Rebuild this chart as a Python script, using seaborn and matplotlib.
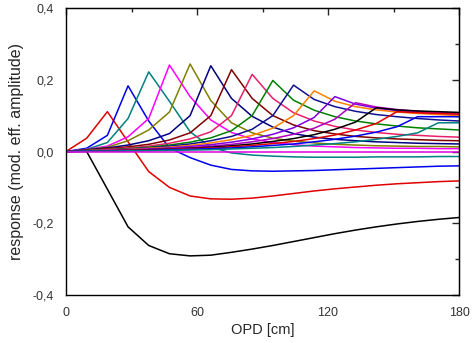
import numpy as np
import pandas as pd
import matplotlib
matplotlib.use("Agg")
import matplotlib.pyplot as plt
import seaborn as sns
from matplotlib.ticker import MultipleLocator, FuncFormatter

# OPD sample positions [cm]
opd = [0.0, 9.47, 18.95, 28.42, 37.89, 47.37, 56.84, 66.32, 75.79, 85.26,
       94.74, 104.21, 113.68, 123.16, 132.63, 142.11, 151.58, 161.05, 170.53, 180.0]

c01 = [0, 0.000, -0.105, -0.210, -0.262, -0.285, -0.291, -0.289, -0.281, -0.272, -0.262, -0.251, -0.240, -0.229, -0.219, -0.210, -0.202, -0.195, -0.189, -0.184]
c02 = [0, 0.037, 0.111, 0.027, -0.056, -0.100, -0.124, -0.132, -0.133, -0.130, -0.124, -0.117, -0.110, -0.104, -0.099, -0.094, -0.090, -0.087, -0.084, -0.082]
c03 = [0, 0.009, 0.045, 0.183, 0.085, 0.010, -0.017, -0.038, -0.050, -0.054, -0.055, -0.054, -0.053, -0.051, -0.049, -0.047, -0.045, -0.043, -0.041, -0.040]
c04 = [0, 0.006, 0.025, 0.092, 0.222, 0.140, 0.055, 0.012, -0.004, -0.010, -0.013, -0.015, -0.016, -0.016, -0.016, -0.015, -0.015, -0.015, -0.014, -0.014]
c05 = [0, 0.006, 0.015, 0.041, 0.092, 0.241, 0.153, 0.088, 0.053, 0.035, 0.025, 0.019, 0.015, 0.013, 0.011, 0.010, 0.009, 0.009, 0.008, 0.008]
c06 = [0, 0.005, 0.012, 0.030, 0.060, 0.110, 0.244, 0.142, 0.080, 0.052, 0.037, 0.029, 0.024, 0.020, 0.018, 0.016, 0.015, 0.014, 0.014, 0.013]
c07 = [0, 0.005, 0.010, 0.018, 0.030, 0.050, 0.100, 0.239, 0.148, 0.098, 0.068, 0.050, 0.040, 0.034, 0.030, 0.027, 0.025, 0.023, 0.022, 0.021]
c08 = [0, 0.004, 0.008, 0.013, 0.020, 0.032, 0.052, 0.100, 0.228, 0.148, 0.100, 0.074, 0.058, 0.049, 0.042, 0.038, 0.035, 0.033, 0.031, 0.030]
c09 = [0, 0.003, 0.006, 0.010, 0.015, 0.023, 0.035, 0.055, 0.100, 0.215, 0.148, 0.108, 0.085, 0.070, 0.060, 0.053, 0.048, 0.045, 0.042, 0.040]
c10 = [0, 0.003, 0.005, 0.008, 0.012, 0.018, 0.026, 0.038, 0.058, 0.100, 0.198, 0.143, 0.115, 0.097, 0.085, 0.077, 0.071, 0.066, 0.063, 0.060]
c11 = [0, 0.002, 0.004, 0.007, 0.010, 0.015, 0.021, 0.030, 0.042, 0.062, 0.100, 0.185, 0.145, 0.125, 0.112, 0.103, 0.097, 0.092, 0.088, 0.085]
c12 = [0, 0.002, 0.004, 0.006, 0.009, 0.012, 0.017, 0.024, 0.033, 0.045, 0.065, 0.100, 0.169, 0.140, 0.125, 0.116, 0.110, 0.106, 0.103, 0.100]
c13 = [0, 0.002, 0.003, 0.005, 0.007, 0.010, 0.014, 0.019, 0.026, 0.035, 0.048, 0.066, 0.095, 0.153, 0.132, 0.121, 0.114, 0.110, 0.107, 0.105]
c14 = [0, 0.001, 0.003, 0.004, 0.006, 0.008, 0.011, 0.015, 0.020, 0.027, 0.036, 0.048, 0.065, 0.090, 0.136, 0.124, 0.117, 0.112, 0.109, 0.107]
c15 = [0, 0.001, 0.002, 0.003, 0.005, 0.007, 0.009, 0.012, 0.016, 0.021, 0.028, 0.036, 0.047, 0.062, 0.082, 0.122, 0.116, 0.113, 0.111, 0.109]
c16 = [0, 0.001, 0.002, 0.003, 0.004, 0.006, 0.008, 0.010, 0.013, 0.017, 0.022, 0.028, 0.036, 0.046, 0.060, 0.078, 0.111, 0.108, 0.106, 0.104]
c17 = [0, 0.001, 0.001, 0.002, 0.003, 0.005, 0.006, 0.008, 0.010, 0.013, 0.017, 0.021, 0.027, 0.034, 0.043, 0.054, 0.069, 0.097, 0.097, 0.097]
c18 = [0, 0.001, 0.001, 0.002, 0.002, 0.003, 0.004, 0.005, 0.007, 0.009, 0.011, 0.014, 0.018, 0.022, 0.027, 0.034, 0.042, 0.052, 0.080, 0.080]
c19 = [0, 0.000, 0.000, 0.000, 0.000, 0.000, 0.000, 0.000, 0.000, 0.000, 0.000, 0.000, 0.000, 0.000, 0.000, 0.000, 0.000, 0.000, 0.000, 0.000]

series = [c01, c02, c03, c04, c05, c06, c07, c08, c09, c10, c11, c12, c13, c14, c15, c16, c17, c18, c19]
colors = ["#000000", "#E00000", "#0000F0", "#008080", "#FF00FF", "#808000", "#000080",
          "#800000", "#E8206A", "#008000", "#101090", "#FF8000", "#8000E0", "#B000C0",
          "#000000", "#E00000", "#0000F0", "#008080", "#E000E0"]

rows = []
for k, vals in enumerate(series):
    for x, v in zip(opd, vals):
        rows.append({"opd": x, "response": v, "curve": f"c{k+1:02d}"})
df = pd.DataFrame(rows)

sns.set_style("white")
plt.rcParams["font.family"] = ["Liberation Sans", "DejaVu Sans"]

fig = plt.figure(figsize=(4.74, 3.43), dpi=100)
ax = fig.add_axes([66/474, 1-295/343, (459-66)/474, (295-8)/343])

sns.lineplot(data=df, x="opd", y="response", hue="curve",
             palette=colors, linewidth=1.1, legend=False, ax=ax, sort=False)

ax.set_xlim(0, 180)
ax.set_ylim(-0.4, 0.4)
ax.xaxis.set_major_locator(MultipleLocator(60))
ax.xaxis.set_minor_locator(MultipleLocator(30))
ax.yaxis.set_major_locator(MultipleLocator(0.2))
ax.yaxis.set_minor_locator(MultipleLocator(0.1))
ax.yaxis.set_major_formatter(FuncFormatter(lambda v, p: f"{v:.1f}".replace(".", ",")))
ax.xaxis.set_major_formatter(FuncFormatter(lambda v, p: f"{v:.0f}"))

for s in ax.spines.values():
    s.set_color("#000000")
    s.set_linewidth(1.0)

ax.tick_params(which="both", direction="out", top=False, right=False,
               labelsize=9, colors="#000000", labelcolor="#333333")
ax.tick_params(which="major", length=5, width=1.0)
ax.tick_params(which="minor", length=3, width=1.0)

sec_x = ax.secondary_xaxis("top")
sec_x.xaxis.set_major_locator(MultipleLocator(60))
sec_x.xaxis.set_minor_locator(MultipleLocator(30))
sec_x.tick_params(which="both", direction="in", labeltop=False)
sec_x.tick_params(which="major", length=5, width=1.0)
sec_x.tick_params(which="minor", length=3, width=1.0)

sec_y = ax.secondary_yaxis("right")
sec_y.yaxis.set_major_locator(MultipleLocator(0.2))
sec_y.yaxis.set_minor_locator(MultipleLocator(0.1))
sec_y.tick_params(which="both", direction="in", labelright=False)
sec_y.tick_params(which="major", length=5, width=1.0)
sec_y.tick_params(which="minor", length=3, width=1.0)

ax.set_xlabel("OPD [cm]", fontsize=10.5, labelpad=3)
ax.set_ylabel("response (mod. eff. amplitude)", fontsize=11.5, labelpad=6)

fig.savefig("out.png", dpi=100)
